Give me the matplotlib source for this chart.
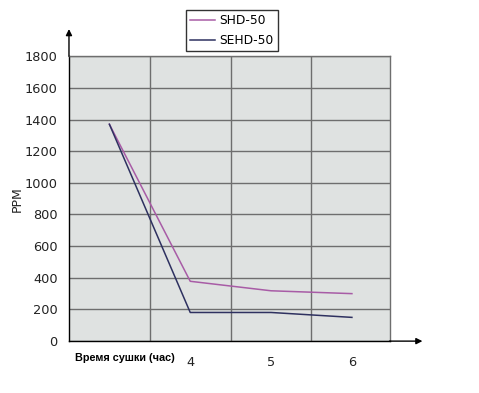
import numpy as np
import matplotlib.pyplot as plt
from matplotlib.ticker import FixedLocator

# Data
hours = [3, 4, 5, 6]
shd50 = [1370, 378, 318, 300]
sehd50 = [1370, 181, 181, 150]
x_tick_labels = ['4', '5', '6']
y_ticks = list(range(0, 1801, 200))

grid_color = '#6e6e6e'

fig = plt.figure(figsize=(4.79, 3.93), dpi=100)
ax = fig.add_axes([0.144, 0.132, 0.670, 0.725])
ax.set_facecolor('#dfe2e1')

ax.plot(hours, shd50, color='#a85ca6', lw=1.1, label='SHD-50')
ax.plot(hours, sehd50, color='#2e3160', lw=1.1, label='SEHD-50')

ax.set_xlim(2.5, 6.47)
ax.set_ylim(0, 1800)

# grid: horizontal on every 200, vertical between categories
ax.set_yticks(y_ticks)
ax.xaxis.set_major_locator(FixedLocator([4, 5, 6]))
ax.set_xticklabels(x_tick_labels)
ax.xaxis.set_minor_locator(FixedLocator([3.5, 4.5, 5.5]))
ax.grid(True, axis='y', which='major', color=grid_color, lw=1.0)
ax.grid(True, axis='x', which='minor', color=grid_color, lw=1.0)
ax.grid(False, axis='x', which='major')
ax.tick_params(axis='both', which='both', length=0, labelsize=9.3, colors='#222222')
ax.tick_params(axis='y', pad=8)
ax.tick_params(axis='x', pad=11)

for s in ['top', 'right']:
    ax.spines[s].set_color(grid_color)
    ax.spines[s].set_linewidth(1.0)
for s in ['left', 'bottom']:
    ax.spines[s].set_color('black')
    ax.spines[s].set_linewidth(1.0)

# axis arrows
ax.annotate('', xy=(0, 1.105), xytext=(0, 0.99), xycoords='axes fraction',
            arrowprops=dict(arrowstyle='-|>', color='black', lw=1.0, mutation_scale=9),
            annotation_clip=False)
ax.annotate('', xy=(1.11, 0), xytext=(0.99, 0), xycoords='axes fraction',
            arrowprops=dict(arrowstyle='-|>', color='black', lw=1.0, mutation_scale=9),
            annotation_clip=False)

ax.set_ylabel('PPM', fontsize=9, labelpad=1, color='#222222')
ax.text(0.019, -0.06, 'Время сушки (час)', transform=ax.transAxes,
        fontsize=7.8, fontweight='bold', family=['Liberation Sans', 'DejaVu Sans'],
        ha='left', va='center')

leg = ax.legend(loc='upper left', bbox_to_anchor=(0.364, 1.162), borderaxespad=0,
                fontsize=8.8, frameon=True, fancybox=False, handlelength=2.0,
                handletextpad=0.4, labelspacing=0.55, borderpad=0.35)
leg.get_frame().set_edgecolor('black')
leg.get_frame().set_linewidth(1.0)

plt.savefig('out.png', dpi=100)
